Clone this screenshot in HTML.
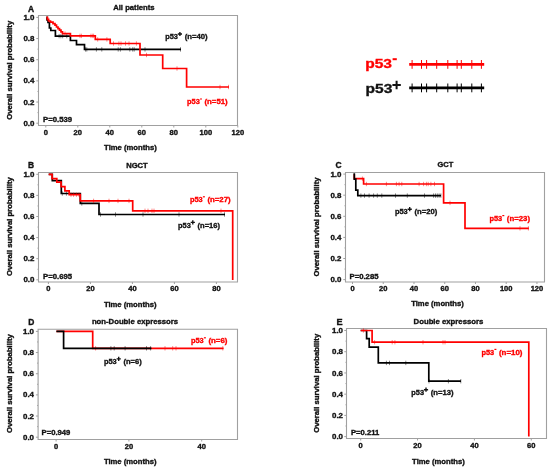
<!DOCTYPE html>
<html><head><meta charset="utf-8"><style>
html,body{margin:0;padding:0;background:#fff;}
body{width:550px;height:468px;overflow:hidden;}
svg{display:block;font-family:"Liberation Sans", sans-serif;will-change:transform;filter:blur(0.3px);}
</style></head><body>
<svg width="550" height="468" viewBox="0 0 550 468">
<rect width="550" height="468" fill="#fff"/>
<path d="M38.5,15.5 H237.5 V125.5 H38.5 Z" fill="none" stroke="#a0a0a0" stroke-width="1.1"/>
<path d="M36.3,123.20 H38.5" stroke="#a0a0a0" stroke-width="1"/>
<text x="34.4" y="125.8" font-size="7.8" font-weight="bold" fill="#111111" stroke="#111111" stroke-width="0.36" text-anchor="end" textLength="11" lengthAdjust="spacingAndGlyphs">0.0</text>
<path d="M37.5,112.62 H38.5" stroke="#a0a0a0" stroke-width="1"/>
<path d="M36.3,102.04 H38.5" stroke="#a0a0a0" stroke-width="1"/>
<text x="34.4" y="104.63999999999999" font-size="7.8" font-weight="bold" fill="#111111" stroke="#111111" stroke-width="0.36" text-anchor="end" textLength="11" lengthAdjust="spacingAndGlyphs">0.2</text>
<path d="M37.5,91.46 H38.5" stroke="#a0a0a0" stroke-width="1"/>
<path d="M36.3,80.88 H38.5" stroke="#a0a0a0" stroke-width="1"/>
<text x="34.4" y="83.47999999999999" font-size="7.8" font-weight="bold" fill="#111111" stroke="#111111" stroke-width="0.36" text-anchor="end" textLength="11" lengthAdjust="spacingAndGlyphs">0.4</text>
<path d="M37.5,70.30 H38.5" stroke="#a0a0a0" stroke-width="1"/>
<path d="M36.3,59.72 H38.5" stroke="#a0a0a0" stroke-width="1"/>
<text x="34.4" y="62.32" font-size="7.8" font-weight="bold" fill="#111111" stroke="#111111" stroke-width="0.36" text-anchor="end" textLength="11" lengthAdjust="spacingAndGlyphs">0.6</text>
<path d="M37.5,49.14 H38.5" stroke="#a0a0a0" stroke-width="1"/>
<path d="M36.3,38.56 H38.5" stroke="#a0a0a0" stroke-width="1"/>
<text x="34.4" y="41.15999999999999" font-size="7.8" font-weight="bold" fill="#111111" stroke="#111111" stroke-width="0.36" text-anchor="end" textLength="11" lengthAdjust="spacingAndGlyphs">0.8</text>
<path d="M37.5,27.98 H38.5" stroke="#a0a0a0" stroke-width="1"/>
<path d="M36.3,17.40 H38.5" stroke="#a0a0a0" stroke-width="1"/>
<text x="34.4" y="20.000000000000007" font-size="7.8" font-weight="bold" fill="#111111" stroke="#111111" stroke-width="0.36" text-anchor="end" textLength="11" lengthAdjust="spacingAndGlyphs">1.0</text>
<path d="M45.80,125.5 V127.5" stroke="#a0a0a0" stroke-width="1"/>
<text x="45.80" y="134.7" font-size="7.6" font-weight="bold" fill="#111111" stroke="#111111" stroke-width="0.36" text-anchor="middle" textLength="4.20" lengthAdjust="spacingAndGlyphs">0</text>
<path d="M77.80,125.5 V127.5" stroke="#a0a0a0" stroke-width="1"/>
<text x="77.80" y="134.7" font-size="7.6" font-weight="bold" fill="#111111" stroke="#111111" stroke-width="0.36" text-anchor="middle" textLength="8.40" lengthAdjust="spacingAndGlyphs">20</text>
<path d="M109.80,125.5 V127.5" stroke="#a0a0a0" stroke-width="1"/>
<text x="109.80" y="134.7" font-size="7.6" font-weight="bold" fill="#111111" stroke="#111111" stroke-width="0.36" text-anchor="middle" textLength="8.40" lengthAdjust="spacingAndGlyphs">40</text>
<path d="M141.80,125.5 V127.5" stroke="#a0a0a0" stroke-width="1"/>
<text x="141.80" y="134.7" font-size="7.6" font-weight="bold" fill="#111111" stroke="#111111" stroke-width="0.36" text-anchor="middle" textLength="8.40" lengthAdjust="spacingAndGlyphs">60</text>
<path d="M173.80,125.5 V127.5" stroke="#a0a0a0" stroke-width="1"/>
<text x="173.80" y="134.7" font-size="7.6" font-weight="bold" fill="#111111" stroke="#111111" stroke-width="0.36" text-anchor="middle" textLength="8.40" lengthAdjust="spacingAndGlyphs">80</text>
<path d="M205.80,125.5 V127.5" stroke="#a0a0a0" stroke-width="1"/>
<text x="205.80" y="134.7" font-size="7.6" font-weight="bold" fill="#111111" stroke="#111111" stroke-width="0.36" text-anchor="middle" textLength="12.60" lengthAdjust="spacingAndGlyphs">100</text>
<path d="M237.80,125.5 V127.5" stroke="#a0a0a0" stroke-width="1"/>
<text x="237.80" y="134.7" font-size="7.6" font-weight="bold" fill="#111111" stroke="#111111" stroke-width="0.36" text-anchor="middle" textLength="12.60" lengthAdjust="spacingAndGlyphs">120</text>
<text x="27.9" y="11.6" font-size="8.8" font-weight="bold" fill="#111111" stroke="#111111" stroke-width="0.36" textLength="6.1" lengthAdjust="spacingAndGlyphs">A</text>
<text x="113.2" y="9.9" font-size="7.75" font-weight="bold" fill="#111111" stroke="#111111" stroke-width="0.36" textLength="41.4" lengthAdjust="spacingAndGlyphs">All patients</text>
<text x="0" y="0" font-size="7.75" font-weight="bold" fill="#111111" stroke="#111111" stroke-width="0.36" text-anchor="middle" textLength="99" lengthAdjust="spacingAndGlyphs" transform="translate(11.9,70.3) rotate(-90)">Overall survival probability</text>
<text x="104.1" y="149.9" font-size="7.66" font-weight="bold" fill="#111111" stroke="#111111" stroke-width="0.36" textLength="52.6" lengthAdjust="spacingAndGlyphs">Time (months)</text>
<text x="43.1" y="121.9" font-size="7.6" font-weight="bold" fill="#111111" stroke="#111111" stroke-width="0.36" textLength="29" lengthAdjust="spacingAndGlyphs">P=0.539</text>
<path d="M46.3,17.4 H47 V20 H48 V22.5 H49.4 V28 H50.8 V30.5 H55.4 V36.1 H70.4 V40.5 H76.5 V44.6 H84.5 V49.4 H181" fill="none" stroke="#000000" stroke-width="1.7" stroke-linejoin="miter" stroke-linecap="butt"/>
<path d="M59.1,33.9V38.300000000000004M60.9,33.9V38.300000000000004M62.7,33.9V38.300000000000004M66.8,33.9V38.300000000000004M85.5,47.199999999999996V51.6M86.8,47.199999999999996V51.6M96.4,47.199999999999996V51.6M101.8,47.199999999999996V51.6M118.2,47.199999999999996V51.6M120.4,47.199999999999996V51.6M129.8,47.199999999999996V51.6M132.7,47.199999999999996V51.6M134.2,47.199999999999996V51.6M145,47.199999999999996V51.6M180.5,47.199999999999996V51.6" stroke="#000000" stroke-width="0.6" opacity="0.8"/>
<path d="M46.3,17.4 H47.5 V19.3 H48.6 V21 H50.5 V22.2 H53 V23.6 H55 V25.2 H56.5 V27 H58 V28.6 H59.5 V30.2 H61 V31.8 H62.5 V33.6 H70.4 V35.9 H95.3 V39.4 H110.2 V43.5 H140 V55 H162.7 V68.5 H186.6 V87 H229" fill="none" stroke="#ff0000" stroke-width="1.7" stroke-linejoin="miter" stroke-linecap="butt"/>
<path d="M65,31.400000000000002V35.800000000000004M80,33.699999999999996V38.1M81.4,33.699999999999996V38.1M90.9,33.699999999999996V38.1M92.3,33.699999999999996V38.1M93.6,33.699999999999996V38.1M97.7,37.199999999999996V41.6M106.9,37.199999999999996V41.6M113.5,41.3V45.7M118.9,41.3V45.7M121,41.3V45.7M125.5,41.3V45.7M129,41.3V45.7M136.4,41.3V45.7M146.5,52.8V57.2M177,66.3V70.7M220,84.8V89.2M228.5,84.8V89.2" stroke="#ff0000" stroke-width="0.6" opacity="0.8"/>
<text x="165.2" y="39.2" font-size="7.9" font-weight="bold" fill="#111111" stroke="#111111" stroke-width="0.36" textLength="12.7" lengthAdjust="spacingAndGlyphs">p53</text>
<path d="M177.80,34.00 H182.00 M179.90,31.90 V36.10" stroke="#111111" stroke-width="1.35"/>
<text x="184.70" y="39.2" font-size="7.9" font-weight="bold" fill="#111111" stroke="#111111" stroke-width="0.36" textLength="23.00" lengthAdjust="spacingAndGlyphs">(n=40)</text>
<text x="187.1" y="104.2" font-size="7.9" font-weight="bold" fill="#ff0000" stroke="#ff0000" stroke-width="0.36" textLength="12.7" lengthAdjust="spacingAndGlyphs">p53</text>
<path d="M200.00,99.00 H202.00" stroke="#ff0000" stroke-width="1.2"/>
<text x="204.50" y="104.2" font-size="7.9" font-weight="bold" fill="#ff0000" stroke="#ff0000" stroke-width="0.36" textLength="23.20" lengthAdjust="spacingAndGlyphs">(n=51)</text>
<path d="M38.5,172.5 H237.5 V282 H38.5 Z" fill="none" stroke="#a0a0a0" stroke-width="1.1"/>
<path d="M36.3,279.80 H38.5" stroke="#a0a0a0" stroke-width="1"/>
<text x="34.4" y="282.40000000000003" font-size="7.8" font-weight="bold" fill="#111111" stroke="#111111" stroke-width="0.36" text-anchor="end" textLength="11" lengthAdjust="spacingAndGlyphs">0.0</text>
<path d="M37.5,269.25 H38.5" stroke="#a0a0a0" stroke-width="1"/>
<path d="M36.3,258.70 H38.5" stroke="#a0a0a0" stroke-width="1"/>
<text x="34.4" y="261.3" font-size="7.8" font-weight="bold" fill="#111111" stroke="#111111" stroke-width="0.36" text-anchor="end" textLength="11" lengthAdjust="spacingAndGlyphs">0.2</text>
<path d="M37.5,248.15 H38.5" stroke="#a0a0a0" stroke-width="1"/>
<path d="M36.3,237.60 H38.5" stroke="#a0a0a0" stroke-width="1"/>
<text x="34.4" y="240.20000000000002" font-size="7.8" font-weight="bold" fill="#111111" stroke="#111111" stroke-width="0.36" text-anchor="end" textLength="11" lengthAdjust="spacingAndGlyphs">0.4</text>
<path d="M37.5,227.05 H38.5" stroke="#a0a0a0" stroke-width="1"/>
<path d="M36.3,216.50 H38.5" stroke="#a0a0a0" stroke-width="1"/>
<text x="34.4" y="219.1" font-size="7.8" font-weight="bold" fill="#111111" stroke="#111111" stroke-width="0.36" text-anchor="end" textLength="11" lengthAdjust="spacingAndGlyphs">0.6</text>
<path d="M37.5,205.95 H38.5" stroke="#a0a0a0" stroke-width="1"/>
<path d="M36.3,195.40 H38.5" stroke="#a0a0a0" stroke-width="1"/>
<text x="34.4" y="198.0" font-size="7.8" font-weight="bold" fill="#111111" stroke="#111111" stroke-width="0.36" text-anchor="end" textLength="11" lengthAdjust="spacingAndGlyphs">0.8</text>
<path d="M37.5,184.85 H38.5" stroke="#a0a0a0" stroke-width="1"/>
<path d="M36.3,174.30 H38.5" stroke="#a0a0a0" stroke-width="1"/>
<text x="34.4" y="176.9" font-size="7.8" font-weight="bold" fill="#111111" stroke="#111111" stroke-width="0.36" text-anchor="end" textLength="11" lengthAdjust="spacingAndGlyphs">1.0</text>
<path d="M48.40,282 V284" stroke="#a0a0a0" stroke-width="1"/>
<text x="48.40" y="291.2" font-size="7.6" font-weight="bold" fill="#111111" stroke="#111111" stroke-width="0.36" text-anchor="middle" textLength="4.20" lengthAdjust="spacingAndGlyphs">0</text>
<path d="M90.40,282 V284" stroke="#a0a0a0" stroke-width="1"/>
<text x="90.40" y="291.2" font-size="7.6" font-weight="bold" fill="#111111" stroke="#111111" stroke-width="0.36" text-anchor="middle" textLength="8.40" lengthAdjust="spacingAndGlyphs">20</text>
<path d="M132.40,282 V284" stroke="#a0a0a0" stroke-width="1"/>
<text x="132.40" y="291.2" font-size="7.6" font-weight="bold" fill="#111111" stroke="#111111" stroke-width="0.36" text-anchor="middle" textLength="8.40" lengthAdjust="spacingAndGlyphs">40</text>
<path d="M174.40,282 V284" stroke="#a0a0a0" stroke-width="1"/>
<text x="174.40" y="291.2" font-size="7.6" font-weight="bold" fill="#111111" stroke="#111111" stroke-width="0.36" text-anchor="middle" textLength="8.40" lengthAdjust="spacingAndGlyphs">60</text>
<path d="M216.40,282 V284" stroke="#a0a0a0" stroke-width="1"/>
<text x="216.40" y="291.2" font-size="7.6" font-weight="bold" fill="#111111" stroke="#111111" stroke-width="0.36" text-anchor="middle" textLength="8.40" lengthAdjust="spacingAndGlyphs">80</text>
<text x="27.9" y="167.9" font-size="8.8" font-weight="bold" fill="#111111" stroke="#111111" stroke-width="0.36" textLength="6.1" lengthAdjust="spacingAndGlyphs">B</text>
<text x="126.2" y="167.5" font-size="7.75" font-weight="bold" fill="#111111" stroke="#111111" stroke-width="0.36" textLength="21.5" lengthAdjust="spacingAndGlyphs">NGCT</text>
<text x="0" y="0" font-size="7.75" font-weight="bold" fill="#111111" stroke="#111111" stroke-width="0.36" text-anchor="middle" textLength="99" lengthAdjust="spacingAndGlyphs" transform="translate(12.2,226.6) rotate(-90)">Overall survival probability</text>
<text x="103.9" y="306.5" font-size="7.66" font-weight="bold" fill="#111111" stroke="#111111" stroke-width="0.36" textLength="52.6" lengthAdjust="spacingAndGlyphs">Time (months)</text>
<text x="43.1" y="278.7" font-size="7.6" font-weight="bold" fill="#111111" stroke="#111111" stroke-width="0.36" textLength="29" lengthAdjust="spacingAndGlyphs">P=0.695</text>
<path d="M48.7,174.3 H52.3 V180.6 H61.3 V193.5 H80.3 V203.4 H99 V214.5 H225" fill="none" stroke="#000000" stroke-width="1.7" stroke-linejoin="miter" stroke-linecap="butt"/>
<path d="M62.3,191.3V195.7M66.4,191.3V195.7M81.8,201.20000000000002V205.6M100.5,212.3V216.7M115.5,212.3V216.7M143,212.3V216.7M179,212.3V216.7M224.5,212.3V216.7" stroke="#000000" stroke-width="0.6" opacity="0.8"/>
<path d="M48.7,174.3 H52.1 V178.7 H56.8 V182.1 H61.1 V186.6 H64.9 V190.9 H69.2 V194.7 H80.3 V200.9 H132.7 V210.8 H232.7 V280" fill="none" stroke="#ff0000" stroke-width="1.7" stroke-linejoin="miter" stroke-linecap="butt"/>
<path d="M71,192.5V196.89999999999998M73.6,192.5V196.89999999999998M76.4,192.5V196.89999999999998M79,192.5V196.89999999999998M93.6,198.70000000000002V203.1M109,198.70000000000002V203.1M118,198.70000000000002V203.1M129,198.70000000000002V203.1M145,208.60000000000002V213.0M148,208.60000000000002V213.0M152,208.60000000000002V213.0M154,208.60000000000002V213.0M221,208.60000000000002V213.0" stroke="#ff0000" stroke-width="0.6" opacity="0.8"/>
<text x="190" y="202" font-size="7.9" font-weight="bold" fill="#ff0000" stroke="#ff0000" stroke-width="0.36" textLength="12.7" lengthAdjust="spacingAndGlyphs">p53</text>
<path d="M202.90,196.80 H204.90" stroke="#ff0000" stroke-width="1.2"/>
<text x="207.40" y="202" font-size="7.9" font-weight="bold" fill="#ff0000" stroke="#ff0000" stroke-width="0.36" textLength="23.20" lengthAdjust="spacingAndGlyphs">(n=27)</text>
<text x="178.1" y="227.6" font-size="7.9" font-weight="bold" fill="#111111" stroke="#111111" stroke-width="0.36" textLength="12.7" lengthAdjust="spacingAndGlyphs">p53</text>
<path d="M190.70,222.40 H194.90 M192.80,220.30 V224.50" stroke="#111111" stroke-width="1.35"/>
<text x="197.60" y="227.6" font-size="7.9" font-weight="bold" fill="#111111" stroke="#111111" stroke-width="0.36" textLength="22.40" lengthAdjust="spacingAndGlyphs">(n=16)</text>
<path d="M345.5,172.5 H544.5 V282 H345.5 Z" fill="none" stroke="#a0a0a0" stroke-width="1.1"/>
<path d="M343.3,279.60 H345.5" stroke="#a0a0a0" stroke-width="1"/>
<text x="341.4" y="282.20000000000005" font-size="7.8" font-weight="bold" fill="#111111" stroke="#111111" stroke-width="0.36" text-anchor="end" textLength="11" lengthAdjust="spacingAndGlyphs">0.0</text>
<path d="M344.5,269.05 H345.5" stroke="#a0a0a0" stroke-width="1"/>
<path d="M343.3,258.50 H345.5" stroke="#a0a0a0" stroke-width="1"/>
<text x="341.4" y="261.1" font-size="7.8" font-weight="bold" fill="#111111" stroke="#111111" stroke-width="0.36" text-anchor="end" textLength="11" lengthAdjust="spacingAndGlyphs">0.2</text>
<path d="M344.5,247.95 H345.5" stroke="#a0a0a0" stroke-width="1"/>
<path d="M343.3,237.40 H345.5" stroke="#a0a0a0" stroke-width="1"/>
<text x="341.4" y="240.0" font-size="7.8" font-weight="bold" fill="#111111" stroke="#111111" stroke-width="0.36" text-anchor="end" textLength="11" lengthAdjust="spacingAndGlyphs">0.4</text>
<path d="M344.5,226.85 H345.5" stroke="#a0a0a0" stroke-width="1"/>
<path d="M343.3,216.30 H345.5" stroke="#a0a0a0" stroke-width="1"/>
<text x="341.4" y="218.9" font-size="7.8" font-weight="bold" fill="#111111" stroke="#111111" stroke-width="0.36" text-anchor="end" textLength="11" lengthAdjust="spacingAndGlyphs">0.6</text>
<path d="M344.5,205.75 H345.5" stroke="#a0a0a0" stroke-width="1"/>
<path d="M343.3,195.20 H345.5" stroke="#a0a0a0" stroke-width="1"/>
<text x="341.4" y="197.79999999999998" font-size="7.8" font-weight="bold" fill="#111111" stroke="#111111" stroke-width="0.36" text-anchor="end" textLength="11" lengthAdjust="spacingAndGlyphs">0.8</text>
<path d="M344.5,184.65 H345.5" stroke="#a0a0a0" stroke-width="1"/>
<path d="M343.3,174.10 H345.5" stroke="#a0a0a0" stroke-width="1"/>
<text x="341.4" y="176.7" font-size="7.8" font-weight="bold" fill="#111111" stroke="#111111" stroke-width="0.36" text-anchor="end" textLength="11" lengthAdjust="spacingAndGlyphs">1.0</text>
<path d="M352.50,282 V284" stroke="#a0a0a0" stroke-width="1"/>
<text x="352.50" y="291.2" font-size="7.6" font-weight="bold" fill="#111111" stroke="#111111" stroke-width="0.36" text-anchor="middle" textLength="4.20" lengthAdjust="spacingAndGlyphs">0</text>
<path d="M383.24,282 V284" stroke="#a0a0a0" stroke-width="1"/>
<text x="383.24" y="291.2" font-size="7.6" font-weight="bold" fill="#111111" stroke="#111111" stroke-width="0.36" text-anchor="middle" textLength="8.40" lengthAdjust="spacingAndGlyphs">20</text>
<path d="M413.98,282 V284" stroke="#a0a0a0" stroke-width="1"/>
<text x="413.98" y="291.2" font-size="7.6" font-weight="bold" fill="#111111" stroke="#111111" stroke-width="0.36" text-anchor="middle" textLength="8.40" lengthAdjust="spacingAndGlyphs">40</text>
<path d="M444.72,282 V284" stroke="#a0a0a0" stroke-width="1"/>
<text x="444.72" y="291.2" font-size="7.6" font-weight="bold" fill="#111111" stroke="#111111" stroke-width="0.36" text-anchor="middle" textLength="8.40" lengthAdjust="spacingAndGlyphs">60</text>
<path d="M475.46,282 V284" stroke="#a0a0a0" stroke-width="1"/>
<text x="475.46" y="291.2" font-size="7.6" font-weight="bold" fill="#111111" stroke="#111111" stroke-width="0.36" text-anchor="middle" textLength="8.40" lengthAdjust="spacingAndGlyphs">80</text>
<path d="M506.20,282 V284" stroke="#a0a0a0" stroke-width="1"/>
<text x="506.20" y="291.2" font-size="7.6" font-weight="bold" fill="#111111" stroke="#111111" stroke-width="0.36" text-anchor="middle" textLength="12.60" lengthAdjust="spacingAndGlyphs">100</text>
<path d="M536.94,282 V284" stroke="#a0a0a0" stroke-width="1"/>
<text x="536.94" y="291.2" font-size="7.6" font-weight="bold" fill="#111111" stroke="#111111" stroke-width="0.36" text-anchor="middle" textLength="12.60" lengthAdjust="spacingAndGlyphs">120</text>
<text x="335.6" y="168.1" font-size="8.8" font-weight="bold" fill="#111111" stroke="#111111" stroke-width="0.36" textLength="6.1" lengthAdjust="spacingAndGlyphs">C</text>
<text x="437.5" y="166.8" font-size="7.75" font-weight="bold" fill="#111111" stroke="#111111" stroke-width="0.36" textLength="15.7" lengthAdjust="spacingAndGlyphs">GCT</text>
<text x="0" y="0" font-size="7.75" font-weight="bold" fill="#111111" stroke="#111111" stroke-width="0.36" text-anchor="middle" textLength="99" lengthAdjust="spacingAndGlyphs" transform="translate(318.6,227) rotate(-90)">Overall survival probability</text>
<text x="411.2" y="306.4" font-size="7.66" font-weight="bold" fill="#111111" stroke="#111111" stroke-width="0.36" textLength="52.6" lengthAdjust="spacingAndGlyphs">Time (months)</text>
<text x="349.5" y="279.4" font-size="7.6" font-weight="bold" fill="#111111" stroke="#111111" stroke-width="0.36" textLength="29" lengthAdjust="spacingAndGlyphs">P=0.285</text>
<path d="M354.3,174.2 V178.7 H363.6 V184 H443.6 V202.9 H465 V228.3 H528.8" fill="none" stroke="#ff0000" stroke-width="1.7" stroke-linejoin="miter" stroke-linecap="butt"/>
<path d="M362.4,176.5V180.89999999999998M366.4,181.8V186.2M386.4,181.8V186.2M396.4,181.8V186.2M399.1,181.8V186.2M401.8,181.8V186.2M419.1,181.8V186.2M423.6,181.8V186.2M426.4,181.8V186.2M428.2,181.8V186.2M430.9,181.8V186.2M434.5,181.8V186.2M450,200.70000000000002V205.1M520,226.10000000000002V230.5M528.4,226.10000000000002V230.5" stroke="#ff0000" stroke-width="0.6" opacity="0.8"/>
<path d="M353.4,174.2 H354.3 V179.1 H355.8 V190.2 H357.8 V195.6 H441" fill="none" stroke="#000000" stroke-width="1.7" stroke-linejoin="miter" stroke-linecap="butt"/>
<path d="M360.9,193.4V197.79999999999998M364.5,193.4V197.79999999999998M369.1,193.4V197.79999999999998M373.6,193.4V197.79999999999998M377.3,193.4V197.79999999999998M381.8,193.4V197.79999999999998M395.5,193.4V197.79999999999998M407.3,193.4V197.79999999999998M424.5,193.4V197.79999999999998M433.6,193.4V197.79999999999998M435.5,193.4V197.79999999999998M437.3,193.4V197.79999999999998M439.1,193.4V197.79999999999998M440.9,193.4V197.79999999999998" stroke="#000000" stroke-width="0.6" opacity="0.8"/>
<text x="395" y="214.4" font-size="7.9" font-weight="bold" fill="#111111" stroke="#111111" stroke-width="0.36" textLength="12.7" lengthAdjust="spacingAndGlyphs">p53</text>
<path d="M407.60,209.20 H411.80 M409.70,207.10 V211.30" stroke="#111111" stroke-width="1.35"/>
<text x="414.50" y="214.4" font-size="7.9" font-weight="bold" fill="#111111" stroke="#111111" stroke-width="0.36" textLength="22.70" lengthAdjust="spacingAndGlyphs">(n=20)</text>
<text x="489.4" y="220.8" font-size="7.9" font-weight="bold" fill="#ff0000" stroke="#ff0000" stroke-width="0.36" textLength="12.7" lengthAdjust="spacingAndGlyphs">p53</text>
<path d="M502.30,215.60 H504.30" stroke="#ff0000" stroke-width="1.2"/>
<text x="506.80" y="220.8" font-size="7.9" font-weight="bold" fill="#ff0000" stroke="#ff0000" stroke-width="0.36" textLength="23.20" lengthAdjust="spacingAndGlyphs">(n=23)</text>
<path d="M38.1,329.2 H237.5 V439.5 H38.1 Z" fill="none" stroke="#a0a0a0" stroke-width="1.1"/>
<path d="M35.9,437.20 H38.1" stroke="#a0a0a0" stroke-width="1"/>
<text x="34.0" y="439.8" font-size="7.8" font-weight="bold" fill="#111111" stroke="#111111" stroke-width="0.36" text-anchor="end" textLength="11" lengthAdjust="spacingAndGlyphs">0.0</text>
<path d="M37.1,426.62 H38.1" stroke="#a0a0a0" stroke-width="1"/>
<path d="M35.9,416.04 H38.1" stroke="#a0a0a0" stroke-width="1"/>
<text x="34.0" y="418.64" font-size="7.8" font-weight="bold" fill="#111111" stroke="#111111" stroke-width="0.36" text-anchor="end" textLength="11" lengthAdjust="spacingAndGlyphs">0.2</text>
<path d="M37.1,405.46 H38.1" stroke="#a0a0a0" stroke-width="1"/>
<path d="M35.9,394.88 H38.1" stroke="#a0a0a0" stroke-width="1"/>
<text x="34.0" y="397.48" font-size="7.8" font-weight="bold" fill="#111111" stroke="#111111" stroke-width="0.36" text-anchor="end" textLength="11" lengthAdjust="spacingAndGlyphs">0.4</text>
<path d="M37.1,384.30 H38.1" stroke="#a0a0a0" stroke-width="1"/>
<path d="M35.9,373.72 H38.1" stroke="#a0a0a0" stroke-width="1"/>
<text x="34.0" y="376.32" font-size="7.8" font-weight="bold" fill="#111111" stroke="#111111" stroke-width="0.36" text-anchor="end" textLength="11" lengthAdjust="spacingAndGlyphs">0.6</text>
<path d="M37.1,363.14 H38.1" stroke="#a0a0a0" stroke-width="1"/>
<path d="M35.9,352.56 H38.1" stroke="#a0a0a0" stroke-width="1"/>
<text x="34.0" y="355.15999999999997" font-size="7.8" font-weight="bold" fill="#111111" stroke="#111111" stroke-width="0.36" text-anchor="end" textLength="11" lengthAdjust="spacingAndGlyphs">0.8</text>
<path d="M37.1,341.98 H38.1" stroke="#a0a0a0" stroke-width="1"/>
<path d="M35.9,331.40 H38.1" stroke="#a0a0a0" stroke-width="1"/>
<text x="34.0" y="334.0" font-size="7.8" font-weight="bold" fill="#111111" stroke="#111111" stroke-width="0.36" text-anchor="end" textLength="11" lengthAdjust="spacingAndGlyphs">1.0</text>
<path d="M56.10,439.5 V441.5" stroke="#a0a0a0" stroke-width="1"/>
<text x="56.10" y="448.7" font-size="7.6" font-weight="bold" fill="#111111" stroke="#111111" stroke-width="0.36" text-anchor="middle" textLength="4.20" lengthAdjust="spacingAndGlyphs">0</text>
<path d="M128.90,439.5 V441.5" stroke="#a0a0a0" stroke-width="1"/>
<text x="128.90" y="448.7" font-size="7.6" font-weight="bold" fill="#111111" stroke="#111111" stroke-width="0.36" text-anchor="middle" textLength="8.40" lengthAdjust="spacingAndGlyphs">20</text>
<path d="M201.70,439.5 V441.5" stroke="#a0a0a0" stroke-width="1"/>
<text x="201.70" y="448.7" font-size="7.6" font-weight="bold" fill="#111111" stroke="#111111" stroke-width="0.36" text-anchor="middle" textLength="8.40" lengthAdjust="spacingAndGlyphs">40</text>
<text x="28.2" y="325" font-size="8.8" font-weight="bold" fill="#111111" stroke="#111111" stroke-width="0.36" textLength="6.1" lengthAdjust="spacingAndGlyphs">D</text>
<text x="91.9" y="324.4" font-size="7.75" font-weight="bold" fill="#111111" stroke="#111111" stroke-width="0.36" textLength="86.2" lengthAdjust="spacingAndGlyphs">non-Double expressors</text>
<text x="0" y="0" font-size="7.75" font-weight="bold" fill="#111111" stroke="#111111" stroke-width="0.36" text-anchor="middle" textLength="99" lengthAdjust="spacingAndGlyphs" transform="translate(11.9,383.6) rotate(-90)">Overall survival probability</text>
<text x="103.9" y="463.8" font-size="7.66" font-weight="bold" fill="#111111" stroke="#111111" stroke-width="0.36" textLength="52.6" lengthAdjust="spacingAndGlyphs">Time (months)</text>
<text x="41.6" y="434.6" font-size="7.6" font-weight="bold" fill="#111111" stroke="#111111" stroke-width="0.36" textLength="28.8" lengthAdjust="spacingAndGlyphs">P=0.949</text>
<path d="M56.4,331.4 H92.7 V348.3 H223.6" fill="none" stroke="#ff0000" stroke-width="1.7" stroke-linejoin="miter" stroke-linecap="butt"/>
<path d="M95.6,346.1V350.5M165,346.1V350.5M172.7,346.1V350.5M176,346.1V350.5M222.8,346.1V350.5" stroke="#ff0000" stroke-width="0.6" opacity="0.8"/>
<path d="M56.4,331.4 H63.6 V348.3 H151.4" fill="none" stroke="#000000" stroke-width="1.7" stroke-linejoin="miter" stroke-linecap="butt"/>
<path d="M110.9,346.1V350.5M114.2,346.1V350.5M125.1,346.1V350.5M146.5,346.1V350.5M150.6,346.1V350.5" stroke="#000000" stroke-width="0.6" opacity="0.8"/>
<text x="191" y="343" font-size="7.9" font-weight="bold" fill="#ff0000" stroke="#ff0000" stroke-width="0.36" textLength="12.7" lengthAdjust="spacingAndGlyphs">p53</text>
<path d="M203.90,337.80 H205.90" stroke="#ff0000" stroke-width="1.2"/>
<text x="208.40" y="343" font-size="7.9" font-weight="bold" fill="#ff0000" stroke="#ff0000" stroke-width="0.36" textLength="19.10" lengthAdjust="spacingAndGlyphs">(n=6)</text>
<text x="104" y="364" font-size="7.9" font-weight="bold" fill="#111111" stroke="#111111" stroke-width="0.36" textLength="12.7" lengthAdjust="spacingAndGlyphs">p53</text>
<path d="M116.60,358.80 H120.80 M118.70,356.70 V360.90" stroke="#111111" stroke-width="1.35"/>
<text x="123.50" y="364" font-size="7.9" font-weight="bold" fill="#111111" stroke="#111111" stroke-width="0.36" textLength="18.20" lengthAdjust="spacingAndGlyphs">(n=6)</text>
<path d="M346.5,328.5 H546.5 V438.5 H346.5 Z" fill="none" stroke="#a0a0a0" stroke-width="1.1"/>
<path d="M344.3,436.60 H346.5" stroke="#a0a0a0" stroke-width="1"/>
<text x="343.0" y="439.20000000000005" font-size="7.8" font-weight="bold" fill="#111111" stroke="#111111" stroke-width="0.36" text-anchor="end" textLength="11" lengthAdjust="spacingAndGlyphs">0.0</text>
<path d="M345.5,425.99 H346.5" stroke="#a0a0a0" stroke-width="1"/>
<path d="M344.3,415.38 H346.5" stroke="#a0a0a0" stroke-width="1"/>
<text x="343.0" y="417.98" font-size="7.8" font-weight="bold" fill="#111111" stroke="#111111" stroke-width="0.36" text-anchor="end" textLength="11" lengthAdjust="spacingAndGlyphs">0.2</text>
<path d="M345.5,404.77 H346.5" stroke="#a0a0a0" stroke-width="1"/>
<path d="M344.3,394.16 H346.5" stroke="#a0a0a0" stroke-width="1"/>
<text x="343.0" y="396.76000000000005" font-size="7.8" font-weight="bold" fill="#111111" stroke="#111111" stroke-width="0.36" text-anchor="end" textLength="11" lengthAdjust="spacingAndGlyphs">0.4</text>
<path d="M345.5,383.55 H346.5" stroke="#a0a0a0" stroke-width="1"/>
<path d="M344.3,372.94 H346.5" stroke="#a0a0a0" stroke-width="1"/>
<text x="343.0" y="375.54" font-size="7.8" font-weight="bold" fill="#111111" stroke="#111111" stroke-width="0.36" text-anchor="end" textLength="11" lengthAdjust="spacingAndGlyphs">0.6</text>
<path d="M345.5,362.33 H346.5" stroke="#a0a0a0" stroke-width="1"/>
<path d="M344.3,351.72 H346.5" stroke="#a0a0a0" stroke-width="1"/>
<text x="343.0" y="354.32000000000005" font-size="7.8" font-weight="bold" fill="#111111" stroke="#111111" stroke-width="0.36" text-anchor="end" textLength="11" lengthAdjust="spacingAndGlyphs">0.8</text>
<path d="M345.5,341.11 H346.5" stroke="#a0a0a0" stroke-width="1"/>
<path d="M344.3,330.50 H346.5" stroke="#a0a0a0" stroke-width="1"/>
<text x="343.0" y="333.1" font-size="7.8" font-weight="bold" fill="#111111" stroke="#111111" stroke-width="0.36" text-anchor="end" textLength="11" lengthAdjust="spacingAndGlyphs">1.0</text>
<path d="M360.70,438.5 V440.5" stroke="#a0a0a0" stroke-width="1"/>
<text x="360.70" y="447.7" font-size="7.6" font-weight="bold" fill="#111111" stroke="#111111" stroke-width="0.36" text-anchor="middle" textLength="4.20" lengthAdjust="spacingAndGlyphs">0</text>
<path d="M417.56,438.5 V440.5" stroke="#a0a0a0" stroke-width="1"/>
<text x="417.56" y="447.7" font-size="7.6" font-weight="bold" fill="#111111" stroke="#111111" stroke-width="0.36" text-anchor="middle" textLength="8.40" lengthAdjust="spacingAndGlyphs">20</text>
<path d="M474.42,438.5 V440.5" stroke="#a0a0a0" stroke-width="1"/>
<text x="474.42" y="447.7" font-size="7.6" font-weight="bold" fill="#111111" stroke="#111111" stroke-width="0.36" text-anchor="middle" textLength="8.40" lengthAdjust="spacingAndGlyphs">40</text>
<path d="M531.28,438.5 V440.5" stroke="#a0a0a0" stroke-width="1"/>
<text x="531.28" y="447.7" font-size="7.6" font-weight="bold" fill="#111111" stroke="#111111" stroke-width="0.36" text-anchor="middle" textLength="8.40" lengthAdjust="spacingAndGlyphs">60</text>
<text x="336.4" y="324.5" font-size="8.8" font-weight="bold" fill="#111111" stroke="#111111" stroke-width="0.36" textLength="6.1" lengthAdjust="spacingAndGlyphs">E</text>
<text x="413.6" y="323.6" font-size="7.75" font-weight="bold" fill="#111111" stroke="#111111" stroke-width="0.36" textLength="69.7" lengthAdjust="spacingAndGlyphs">Double expressors</text>
<text x="0" y="0" font-size="7.75" font-weight="bold" fill="#111111" stroke="#111111" stroke-width="0.36" text-anchor="middle" textLength="99" lengthAdjust="spacingAndGlyphs" transform="translate(319.4,383.3) rotate(-90)">Overall survival probability</text>
<text x="412.1" y="463.9" font-size="7.66" font-weight="bold" fill="#111111" stroke="#111111" stroke-width="0.36" textLength="52.6" lengthAdjust="spacingAndGlyphs">Time (months)</text>
<text x="351" y="434.8" font-size="7.6" font-weight="bold" fill="#111111" stroke="#111111" stroke-width="0.36" textLength="28.3" lengthAdjust="spacingAndGlyphs">P=0.211</text>
<path d="M360.7,330.5 H366.6 V338.6 H369.2 V347.1 H378.3 V362.9 H428.8 V381.2 H461" fill="none" stroke="#000000" stroke-width="1.7" stroke-linejoin="miter" stroke-linecap="butt"/>
<path d="M386.4,360.7V365.09999999999997M389.5,360.7V365.09999999999997M405.8,360.7V365.09999999999997M429,379.0V383.4M448.4,379.0V383.4M460.8,379.0V383.4" stroke="#000000" stroke-width="0.6" opacity="0.8"/>
<path d="M360.7,330.5 H372.1 V342.2 H528.8 V436.6" fill="none" stroke="#ff0000" stroke-width="1.7" stroke-linejoin="miter" stroke-linecap="butt"/>
<path d="M363.4,328.3V332.7M374.6,340.0V344.4M392.2,340.0V344.4M394.9,340.0V344.4M423,340.0V344.4M443,340.0V344.4M445,340.0V344.4" stroke="#ff0000" stroke-width="0.6" opacity="0.8"/>
<text x="481.5" y="354.6" font-size="7.9" font-weight="bold" fill="#ff0000" stroke="#ff0000" stroke-width="0.36" textLength="12.7" lengthAdjust="spacingAndGlyphs">p53</text>
<path d="M494.40,349.40 H496.40" stroke="#ff0000" stroke-width="1.2"/>
<text x="498.90" y="354.6" font-size="7.9" font-weight="bold" fill="#ff0000" stroke="#ff0000" stroke-width="0.36" textLength="23.60" lengthAdjust="spacingAndGlyphs">(n=10)</text>
<text x="411.3" y="394.9" font-size="7.9" font-weight="bold" fill="#111111" stroke="#111111" stroke-width="0.36" textLength="12.7" lengthAdjust="spacingAndGlyphs">p53</text>
<path d="M423.90,389.70 H428.10 M426.00,387.60 V391.80" stroke="#111111" stroke-width="1.35"/>
<text x="430.80" y="394.9" font-size="7.9" font-weight="bold" fill="#111111" stroke="#111111" stroke-width="0.36" textLength="22.80" lengthAdjust="spacingAndGlyphs">(n=13)</text>
<text x="365.2" y="67.6" font-size="12.9" font-weight="bold" fill="#ff0000" stroke="#ff0000" stroke-width="0.35" textLength="26.8" lengthAdjust="spacingAndGlyphs">p53</text>
<path d="M392.6,59.2 H396.8" stroke="#ff0000" stroke-width="2"/>
<text x="365.6" y="93.4" font-size="12.9" font-weight="bold" fill="#111111" stroke="#111111" stroke-width="0.35" textLength="26.8" lengthAdjust="spacingAndGlyphs">p53</text>
<path d="M392.4,85 H400.8 M396.6,80.8 V89.2" stroke="#111111" stroke-width="2"/>
<path d="M409.2,64.4 H484.2" stroke="#ff0000" stroke-width="2.8"/>
<path d="M412.1,60.00000000000001V68.80000000000001M421.5,60.00000000000001V68.80000000000001M426.6,60.00000000000001V68.80000000000001M436.7,60.00000000000001V68.80000000000001M447.8,60.00000000000001V68.80000000000001M457.1,60.00000000000001V68.80000000000001M461.3,60.00000000000001V68.80000000000001M471.8,60.00000000000001V68.80000000000001M481.4,60.00000000000001V68.80000000000001" stroke="#ff0000" stroke-width="1.0"/>
<path d="M409.2,87.9 H484.2" stroke="#000000" stroke-width="2.8"/>
<path d="M412.1,83.5V92.30000000000001M421.5,83.5V92.30000000000001M426.6,83.5V92.30000000000001M436.7,83.5V92.30000000000001M447.8,83.5V92.30000000000001M457.1,83.5V92.30000000000001M461.3,83.5V92.30000000000001M471.8,83.5V92.30000000000001M481.4,83.5V92.30000000000001" stroke="#000000" stroke-width="1.0"/>
</svg></body></html>
